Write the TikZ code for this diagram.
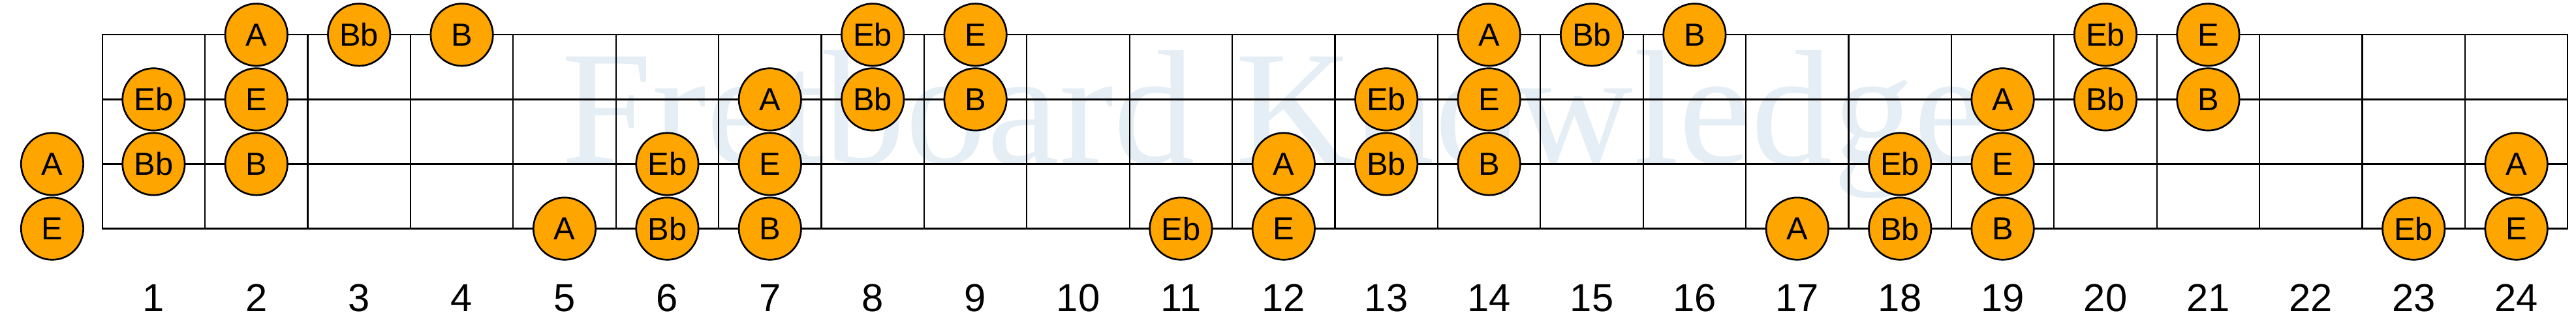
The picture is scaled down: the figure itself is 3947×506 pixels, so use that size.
\documentclass[tikz,border=0pt]{standalone}
\usepackage{fontspec}
\setmainfont{Liberation Sans}
\newfontfamily\markfont{Liberation Serif}
\definecolor{notefill}{RGB}{255,165,0}
\definecolor{markblue}{RGB}{229,238,245}
\tikzset{
  note/.style={circle,draw,fill=notefill,line width=0.77pt,minimum size=9.54mm,
    inner sep=0pt,font=\fontsize{13.9}{14}\selectfont},
  fretnum/.style={anchor=base,inner sep=0pt,font=\fontsize{17}{17}\selectfont},
  board/.style={line width=0.65pt}
}
\begin{document}
\begin{tikzpicture}[x=0.1mm,y=-0.1mm]
  \useasboundingbox (0,0) rectangle (3947,506);
  % watermark
  \node[anchor=base west,inner sep=0pt,text=markblue,
        font=\markfont\fontsize{71}{71}\selectfont] (mark) at (860,251) {Fretboard Knowledge};
  % strings and frets
  \draw[board] (156.7,53.3) rectangle (3934.3,350.6);
  \foreach \s in {1,2}
    \draw[board] (156.7,53.3+99.1*\s) -- (3934.3,53.3+99.1*\s);
  \foreach \f in {1,...,23}
    \draw[board] (156.7+157.4*\f,53.3) -- (156.7+157.4*\f,350.6);
  % open strings
  \node[note] (a-0) at (80,251.5) {A};
  \node[note] (e-0) at (80,350.6) {E};
  % notes on the frets
  \foreach \f/\n in {2/A,3/Bb,4/B,8/Eb,9/E,14/A,15/Bb,16/B,20/Eb,21/E}
    \node[note] (g-\f) at (156.7+157.4*\f-78.7,53.3) {\n};
  \foreach \f/\n in {1/Eb,2/E,7/A,8/Bb,9/B,13/Eb,14/E,19/A,20/Bb,21/B}
    \node[note] (d-\f) at (156.7+157.4*\f-78.7,152.4) {\n};
  \foreach \f/\n in {1/Bb,2/B,6/Eb,7/E,12/A,13/Bb,14/B,18/Eb,19/E,24/A}
    \node[note] (a-\f) at (156.7+157.4*\f-78.7,251.5) {\n};
  \foreach \f/\n in {5/A,6/Bb,7/B,11/Eb,12/E,17/A,18/Bb,19/B,23/Eb,24/E}
    \node[note] (e-\f) at (156.7+157.4*\f-78.7,350.6) {\n};
  % fret numbers
  \foreach \f in {1,...,24}
    \node[fretnum] (fret-\f) at (156.7+157.4*\f-78.7,478) {\f};
\end{tikzpicture}
\end{document}
